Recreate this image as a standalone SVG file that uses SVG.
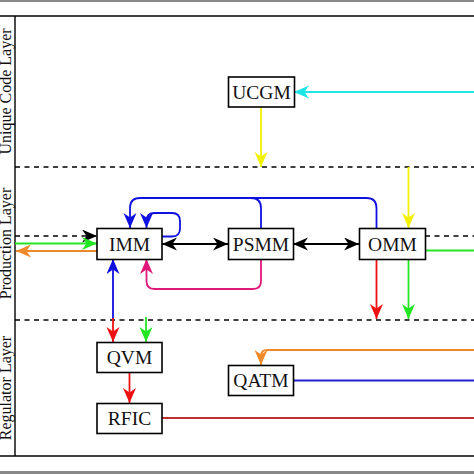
<svg xmlns="http://www.w3.org/2000/svg" width="474" height="474" viewBox="0 0 474 474">
<defs>
<style>
.node rect{fill:#fff;stroke:#000;stroke-width:1.6}
.node text,.lbl{font-family:"Liberation Serif","Times New Roman",serif;fill:#111}
.node text{font-size:19.5px;text-anchor:middle}
.lbl{font-size:16px;text-anchor:middle}
.frame{stroke:#000;stroke-width:1.4;fill:none}
.dash{stroke:#000;stroke-width:1.3;stroke-dasharray:5 4.5;fill:none}
.c{fill:none;stroke-width:1.8}
</style>
<marker id="ak" markerUnits="userSpaceOnUse" markerWidth="16" markerHeight="14" refX="15" refY="6.5" orient="auto-start-reverse"><path d="M0,0 L15,6.5 L0,13 L4.5,6.5 z" fill="#000"/></marker>
<marker id="ab" markerUnits="userSpaceOnUse" markerWidth="16" markerHeight="14" refX="15" refY="6.5" orient="auto-start-reverse"><path d="M0,0 L15,6.5 L0,13 L4.5,6.5 z" fill="#1010e0"/></marker>
<marker id="ag" markerUnits="userSpaceOnUse" markerWidth="16" markerHeight="14" refX="15" refY="6.5" orient="auto-start-reverse"><path d="M0,0 L15,6.5 L0,13 L4.5,6.5 z" fill="#22e622"/></marker>
<marker id="ar" markerUnits="userSpaceOnUse" markerWidth="16" markerHeight="14" refX="15" refY="6.5" orient="auto-start-reverse"><path d="M0,0 L15,6.5 L0,13 L4.5,6.5 z" fill="#ee1111"/></marker>
<marker id="ao" markerUnits="userSpaceOnUse" markerWidth="16" markerHeight="14" refX="15" refY="6.5" orient="auto-start-reverse"><path d="M0,0 L15,6.5 L0,13 L4.5,6.5 z" fill="#ee8a2a"/></marker>
<marker id="ay" markerUnits="userSpaceOnUse" markerWidth="16" markerHeight="14" refX="15" refY="6.5" orient="auto-start-reverse"><path d="M0,0 L15,6.5 L0,13 L4.5,6.5 z" fill="#f2f200"/></marker>
<marker id="ac" markerUnits="userSpaceOnUse" markerWidth="16" markerHeight="14" refX="15" refY="6.5" orient="auto-start-reverse"><path d="M0,0 L15,6.5 L0,13 L4.5,6.5 z" fill="#1ee6e6"/></marker>
<marker id="am" markerUnits="userSpaceOnUse" markerWidth="16" markerHeight="14" refX="15" refY="6.5" orient="auto-start-reverse"><path d="M0,0 L15,6.5 L0,13 L4.5,6.5 z" fill="#e0187a"/></marker>
</defs>
<rect width="474" height="474" fill="#fff"/>
<g id="frame">
<rect x="0" y="0" width="474" height="2" fill="#888"/>
<rect x="0" y="471" width="474" height="3" fill="#888"/>
<line class="frame" x1="0" y1="16" x2="474" y2="16"/>
<line class="frame" x1="0" y1="456" x2="474" y2="456"/>
<line class="frame" x1="15" y1="16" x2="15" y2="456"/>
<line class="dash" x1="15" y1="167" x2="474" y2="167"/>
<line class="dash" x1="15" y1="320" x2="474" y2="320"/>
<text class="lbl" transform="translate(11,91.5) rotate(-90)">Unique Code Layer</text>
<text class="lbl" transform="translate(11,243.5) rotate(-90)">Production Layer</text>
<text class="lbl" transform="translate(11,388) rotate(-90)">Regulator Layer</text>
</g>
<g id="connectors">
<path class="c" stroke="#1ee6e6" d="M474,92 L294,92" marker-end="url(#ac)"/>
<path class="c" stroke="#f2f200" d="M261,107 L261,167" marker-end="url(#ay)"/>
<path class="c" stroke="#f2f200" d="M408.5,167 L408.5,228" marker-end="url(#ay)"/>
<path class="c" stroke="#1010e0" d="M376.5,228 L376.5,208 Q376.5,198 366.5,198 L140,198 Q130,198 130,208 L130,228" marker-end="url(#ab)"/>
<path class="c" stroke="#1010e0" d="M261,228 L261,208 Q261,198 251,198"/>
<path class="c" stroke="#1010e0" d="M162,236.5 L172,236.5 Q180,236.5 180,228.5 L180,221 Q180,213 172,213 L154.5,213 Q146.5,213 146.5,221 L146.5,228" marker-end="url(#ab)"/>
<path class="c" stroke="#000" stroke-width="2" d="M162,244 L228,244" marker-start="url(#ak)" marker-end="url(#ak)"/>
<path class="c" stroke="#000" stroke-width="2" d="M293,244 L359,244" marker-start="url(#ak)" marker-end="url(#ak)"/>
<path class="c" stroke="#e0187a" d="M261,259 L261,281 Q261,289 253,289 L154.5,289 Q146.5,289 146.5,281 L146.5,259" marker-end="url(#am)"/>
<path class="c" stroke="#1010e0" d="M113,319 L113,259" marker-end="url(#ab)"/>
<path class="c" stroke="#ee1111" d="M113,318 L113,342" marker-end="url(#ar)"/>
<path class="c" stroke="#22e622" d="M146,317 L146,342" marker-end="url(#ag)"/>
<path class="c" stroke="#ee1111" d="M376.5,259 L376.5,319" marker-end="url(#ar)"/>
<path class="c" stroke="#22e622" d="M408.5,259 L408.5,319" marker-end="url(#ag)"/>
<path class="c" stroke="#22e622" d="M425,250.5 L474,250.5"/>
<path class="dash" d="M425,236 L474,236"/>
<path class="dash" d="M15,236 L97,236" marker-end="url(#ak)"/>
<path class="c" stroke="#22e622" d="M15,243.5 L97,243.5" marker-end="url(#ag)"/>
<path class="c" stroke="#ee8a2a" d="M97,251 L16,251" marker-end="url(#ao)"/>
<path class="c" stroke="#ee8a2a" d="M474,350 L267,350 Q261,350 261,356 L261,365" marker-end="url(#ao)"/>
<path class="c" stroke="#2020d0" d="M294,380.5 L474,380.5"/>
<path class="c" stroke="#c03030" d="M162,418 L474,418"/>
<path class="c" stroke="#ee1111" d="M129.5,373 L129.5,403" marker-end="url(#ar)"/>
</g>
<g id="UCGM" class="node"><rect x="228.5" y="77" width="66" height="30"/><text x="261.5" y="98.5">UCGM</text></g>
<g id="IMM" class="node"><rect x="97" y="228.5" width="65" height="31"/><text x="129.5" y="250.5">IMM</text></g>
<g id="PSMM" class="node"><rect x="228.5" y="228.5" width="65" height="31"/><text x="261" y="250.5">PSMM</text></g>
<g id="OMM" class="node"><rect x="359.5" y="228.5" width="66" height="31"/><text x="392.5" y="250.5">OMM</text></g>
<g id="QVM" class="node"><rect x="97" y="342.5" width="65" height="30"/><text x="129.5" y="364">QVM</text></g>
<g id="RFIC" class="node"><rect x="97" y="403.5" width="65" height="30"/><text x="129.5" y="425">RFIC</text></g>
<g id="QATM" class="node"><rect x="228.5" y="365.5" width="65" height="30"/><text x="261" y="387">QATM</text></g>
</svg>
